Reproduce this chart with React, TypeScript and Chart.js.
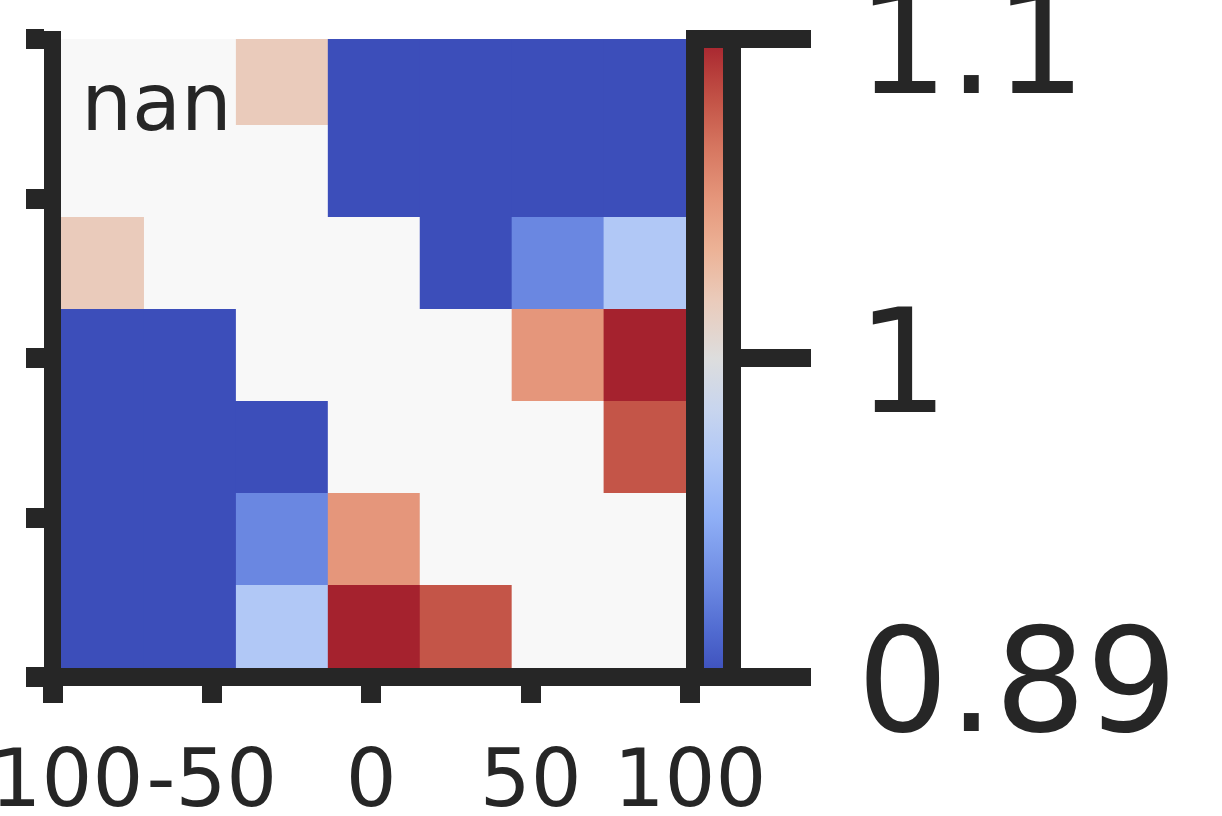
import React, { useEffect, useRef } from 'react';
import { Chart, registerables } from 'chart.js';

Chart.register(...registerables);

const FONT = '"DejaVu Sans", "Liberation Sans", sans-serif';
const INK = '#262626';
const NAN_COLOR = '#f8f8f8';

// axis ticks
const X_TICKS = [-100, -50, 0, 50, 100];
const X_TICK_LABELS = ['-100', '-50', '0', '50', '100'];
const Y_TICKS = [-100, -50, 0, 50, 100];

// grid of cells (data units)
const CELL_START = -100;
const CELL_SIZE = 28.84;

// rows top -> bottom, columns left -> right; null = NaN
const ROW_0: (number | null)[] = [null, null, 1.018, 0.89, 0.89, 0.89, 0.89];
const ROW_1: (number | null)[] = [null, null, null, 0.89, 0.89, 0.89, 0.89];
const ROW_2: (number | null)[] = [1.018, null, null, null, 0.89, 0.921, 0.966];
const ROW_3: (number | null)[] = [0.89, 0.89, null, null, null, 1.05, 1.1];
const ROW_4: (number | null)[] = [0.89, 0.89, 0.89, null, null, null, 1.08];
const ROW_5: (number | null)[] = [0.89, 0.89, 0.921, 1.05, null, null, null];
const ROW_6: (number | null)[] = [0.89, 0.89, 0.966, 1.1, 1.08, null, null];
const ROWS = [ROW_0, ROW_1, ROW_2, ROW_3, ROW_4, ROW_5, ROW_6];

// colour norm (two-slope) and colour bar ticks
const VMIN = 0.89;
const VCENTER = 1.0;
const VMAX = 1.1;
const CBAR_TICK_VALUES = [0.89, 1.0, 1.1];
const CBAR_TICK_LABELS = ['0.89', '1', '1.1'];

const NAN_TEXT = 'nan';
const NAN_TEXT_AT = { x: -91, y: 71.5 };

// coolwarm-like colormap anchors: [position, r, g, b]
const CMAP_STOPS: number[][] = [
  [0.0, 60, 78, 186],
  [0.07, 80, 106, 208],
  [0.14, 106, 135, 225],
  [0.25, 143, 175, 246],
  [0.345, 177, 200, 246],
  [0.42, 200, 213, 238],
  [0.5, 221, 221, 221],
  [0.59, 234, 203, 187],
  [0.67, 236, 178, 150],
  [0.75, 229, 150, 123],
  [0.83, 214, 118, 96],
  [0.9, 196, 85, 72],
  [0.95, 182, 60, 58],
  [1.0, 165, 34, 46],
];

const rgb = (c: number[]) => `rgb(${Math.round(c[0])},${Math.round(c[1])},${Math.round(c[2])})`;

function norm(v: number): number {
  const t = v < VCENTER
    ? 0.5 * (v - VMIN) / (VCENTER - VMIN)
    : 0.5 + 0.5 * (v - VCENTER) / (VMAX - VCENTER);
  return Math.max(0, Math.min(1, t));
}

function cmap(t: number): number[] {
  for (let i = 0; i < CMAP_STOPS.length - 1; i++) {
    const a = CMAP_STOPS[i];
    const b = CMAP_STOPS[i + 1];
    if (t <= b[0]) {
      const f = (t - a[0]) / (b[0] - a[0]);
      return [a[1] + (b[1] - a[1]) * f, a[2] + (b[2] - a[2]) * f, a[3] + (b[3] - a[3]) * f];
    }
  }
  const l = CMAP_STOPS[CMAP_STOPS.length - 1];
  return [l[1], l[2], l[3]];
}

function colorFor(v: number | null): string {
  if (v === null || Number.isNaN(v)) return NAN_COLOR;
  return rgb(cmap(norm(v)));
}

const W = 1222;
const H = 816;

export default function App() {
  const heatRef = useRef<HTMLCanvasElement | null>(null);
  const cbarRef = useRef<HTMLCanvasElement | null>(null);

  useEffect(() => {
    const nRows = ROWS.length;
    const datasets = ROWS.map((row, r) => {
      const hi = CELL_START + (nRows - r) * CELL_SIZE;
      const lo = hi - CELL_SIZE;
      return {
        data: row.map((_v, c) => ({ x: CELL_START + (c + 0.5) * CELL_SIZE, y: [lo, hi] })),
        backgroundColor: row.map((v) => colorFor(v)),
        borderWidth: 0,
        grouped: false,
        barPercentage: 1.01,
        categoryPercentage: 1,
        clip: 0,
      };
    });

    const areaFill = {
      id: 'areaFill',
      beforeDatasetsDraw(chart: any) {
        const { ctx, chartArea: a } = chart;
        ctx.save();
        ctx.fillStyle = NAN_COLOR;
        ctx.fillRect(a.left, a.top, a.right - a.left, a.bottom - a.top);
        ctx.restore();
      },
    };

    const nanLabel = {
      id: 'nanLabel',
      afterDatasetsDraw(chart: any) {
        const { ctx } = chart;
        const x = chart.scales.x.getPixelForValue(NAN_TEXT_AT.x);
        const y = chart.scales.y.getPixelForValue(NAN_TEXT_AT.y);
        ctx.save();
        ctx.font = `80px ${FONT}`;
        ctx.fillStyle = INK;
        ctx.textAlign = 'left';
        ctx.textBaseline = 'alphabetic';
        ctx.fillText(NAN_TEXT, x, y);
        ctx.restore();
      },
    };

    const heat = new Chart(heatRef.current as HTMLCanvasElement, {
      type: 'bar',
      data: { datasets: datasets as any },
      options: {
        responsive: false,
        animation: false,
        devicePixelRatio: 1,
        layout: { padding: { left: 0, top: 39, right: W - 690, bottom: 0 } },
        plugins: { legend: { display: false }, tooltip: { enabled: false } },
        scales: {
          x: {
            type: 'linear',
            min: -100,
            max: 100,
            offset: false,
            afterBuildTicks: (s: any) => { s.ticks = X_TICKS.map((v) => ({ value: v })); },
            afterFit: (s: any) => { s.height = H - 677; s.paddingLeft = 0; s.paddingRight = 0; },
            grid: {
              display: true, drawOnChartArea: false, drawTicks: true, offset: false, z: 1,
              tickLength: 26, tickWidth: 20, tickColor: INK, lineWidth: 0,
            },
            border: { display: true, width: 18, color: INK, z: 2 },
            ticks: {
              autoSkip: false, maxRotation: 0, minRotation: 0, padding: 34, color: INK,
              font: { family: FONT, size: 80 },
              callback: (_v: any, i: number) => X_TICK_LABELS[i],
            },
          },
          y: {
            type: 'linear',
            min: -100,
            max: 100,
            afterBuildTicks: (s: any) => { s.ticks = Y_TICKS.map((v) => ({ value: v })); },
            afterFit: (s: any) => { s.width = 52.5; s.paddingTop = 0; s.paddingBottom = 0; },
            grid: {
              display: true, drawOnChartArea: false, drawTicks: true, z: 1,
              tickLength: 26.5, tickWidth: 20, tickColor: INK, lineWidth: 0,
            },
            border: { display: true, width: 17, color: INK, z: 2 },
            ticks: { display: false },
          },
        },
      } as any,
      plugins: [areaFill, nanLabel],
    });

    const outline = {
      id: 'cbarOutline',
      afterDatasetsDraw(chart: any) {
        const { ctx, chartArea: a } = chart;
        ctx.save();
        ctx.strokeStyle = INK;
        ctx.lineWidth = 18;
        ctx.lineJoin = 'miter';
        ctx.strokeRect(a.left, a.top, a.right - a.left, a.bottom - a.top);
        ctx.restore();
      },
    };

    const cbar = new Chart(cbarRef.current as HTMLCanvasElement, {
      type: 'bar',
      data: {
        labels: [''],
        datasets: [{
          data: [[norm(VMIN), norm(VMAX)]],
          backgroundColor: (ctx: any) => {
            const chart = ctx.chart;
            const a = chart.chartArea;
            if (!a) return rgb(cmap(0));
            const g = chart.ctx.createLinearGradient(0, a.bottom, 0, a.top);
            CMAP_STOPS.forEach((s) => g.addColorStop(s[0], rgb([s[1], s[2], s[3]])));
            return g;
          },
          borderWidth: 0,
          barPercentage: 1,
          categoryPercentage: 1,
        }] as any,
      },
      options: {
        responsive: false,
        animation: false,
        devicePixelRatio: 1,
        layout: { padding: { left: 695, top: 39, right: 0, bottom: H - 677 } },
        plugins: { legend: { display: false }, tooltip: { enabled: false } },
        scales: {
          x: { display: false },
          y: {
            position: 'right',
            min: 0,
            max: 1,
            afterBuildTicks: (s: any) => { s.ticks = CBAR_TICK_VALUES.map((v) => ({ value: norm(v) })); },
            afterFit: (s: any) => { s.width = W - 732; s.paddingTop = 0; s.paddingBottom = 0; },
            grid: {
              display: true, drawOnChartArea: false, drawTicks: true, z: 1,
              tickLength: 79, tickWidth: 18, tickColor: INK, lineWidth: 0,
            },
            border: { display: true, width: 18, color: INK, z: 2 },
            ticks: {
              padding: 46, labelOffset: 17, color: INK,
              font: { family: FONT, size: 144 },
              callback: (_v: any, i: number) => CBAR_TICK_LABELS[i],
            },
          },
        },
      } as any,
      plugins: [outline],
    });

    return () => {
      heat.destroy();
      cbar.destroy();
    };
  }, []);

  const canvasStyle: React.CSSProperties = {
    position: 'absolute', left: 0, top: 0, width: W, height: H,
  };

  return (
    <div style={{ position: 'absolute', left: 0, top: 0, width: W, height: H, background: '#ffffff', overflow: 'hidden' }}>
      <canvas ref={heatRef} width={W} height={H} style={canvasStyle} />
      <canvas ref={cbarRef} width={W} height={H} style={canvasStyle} />
    </div>
  );
}
